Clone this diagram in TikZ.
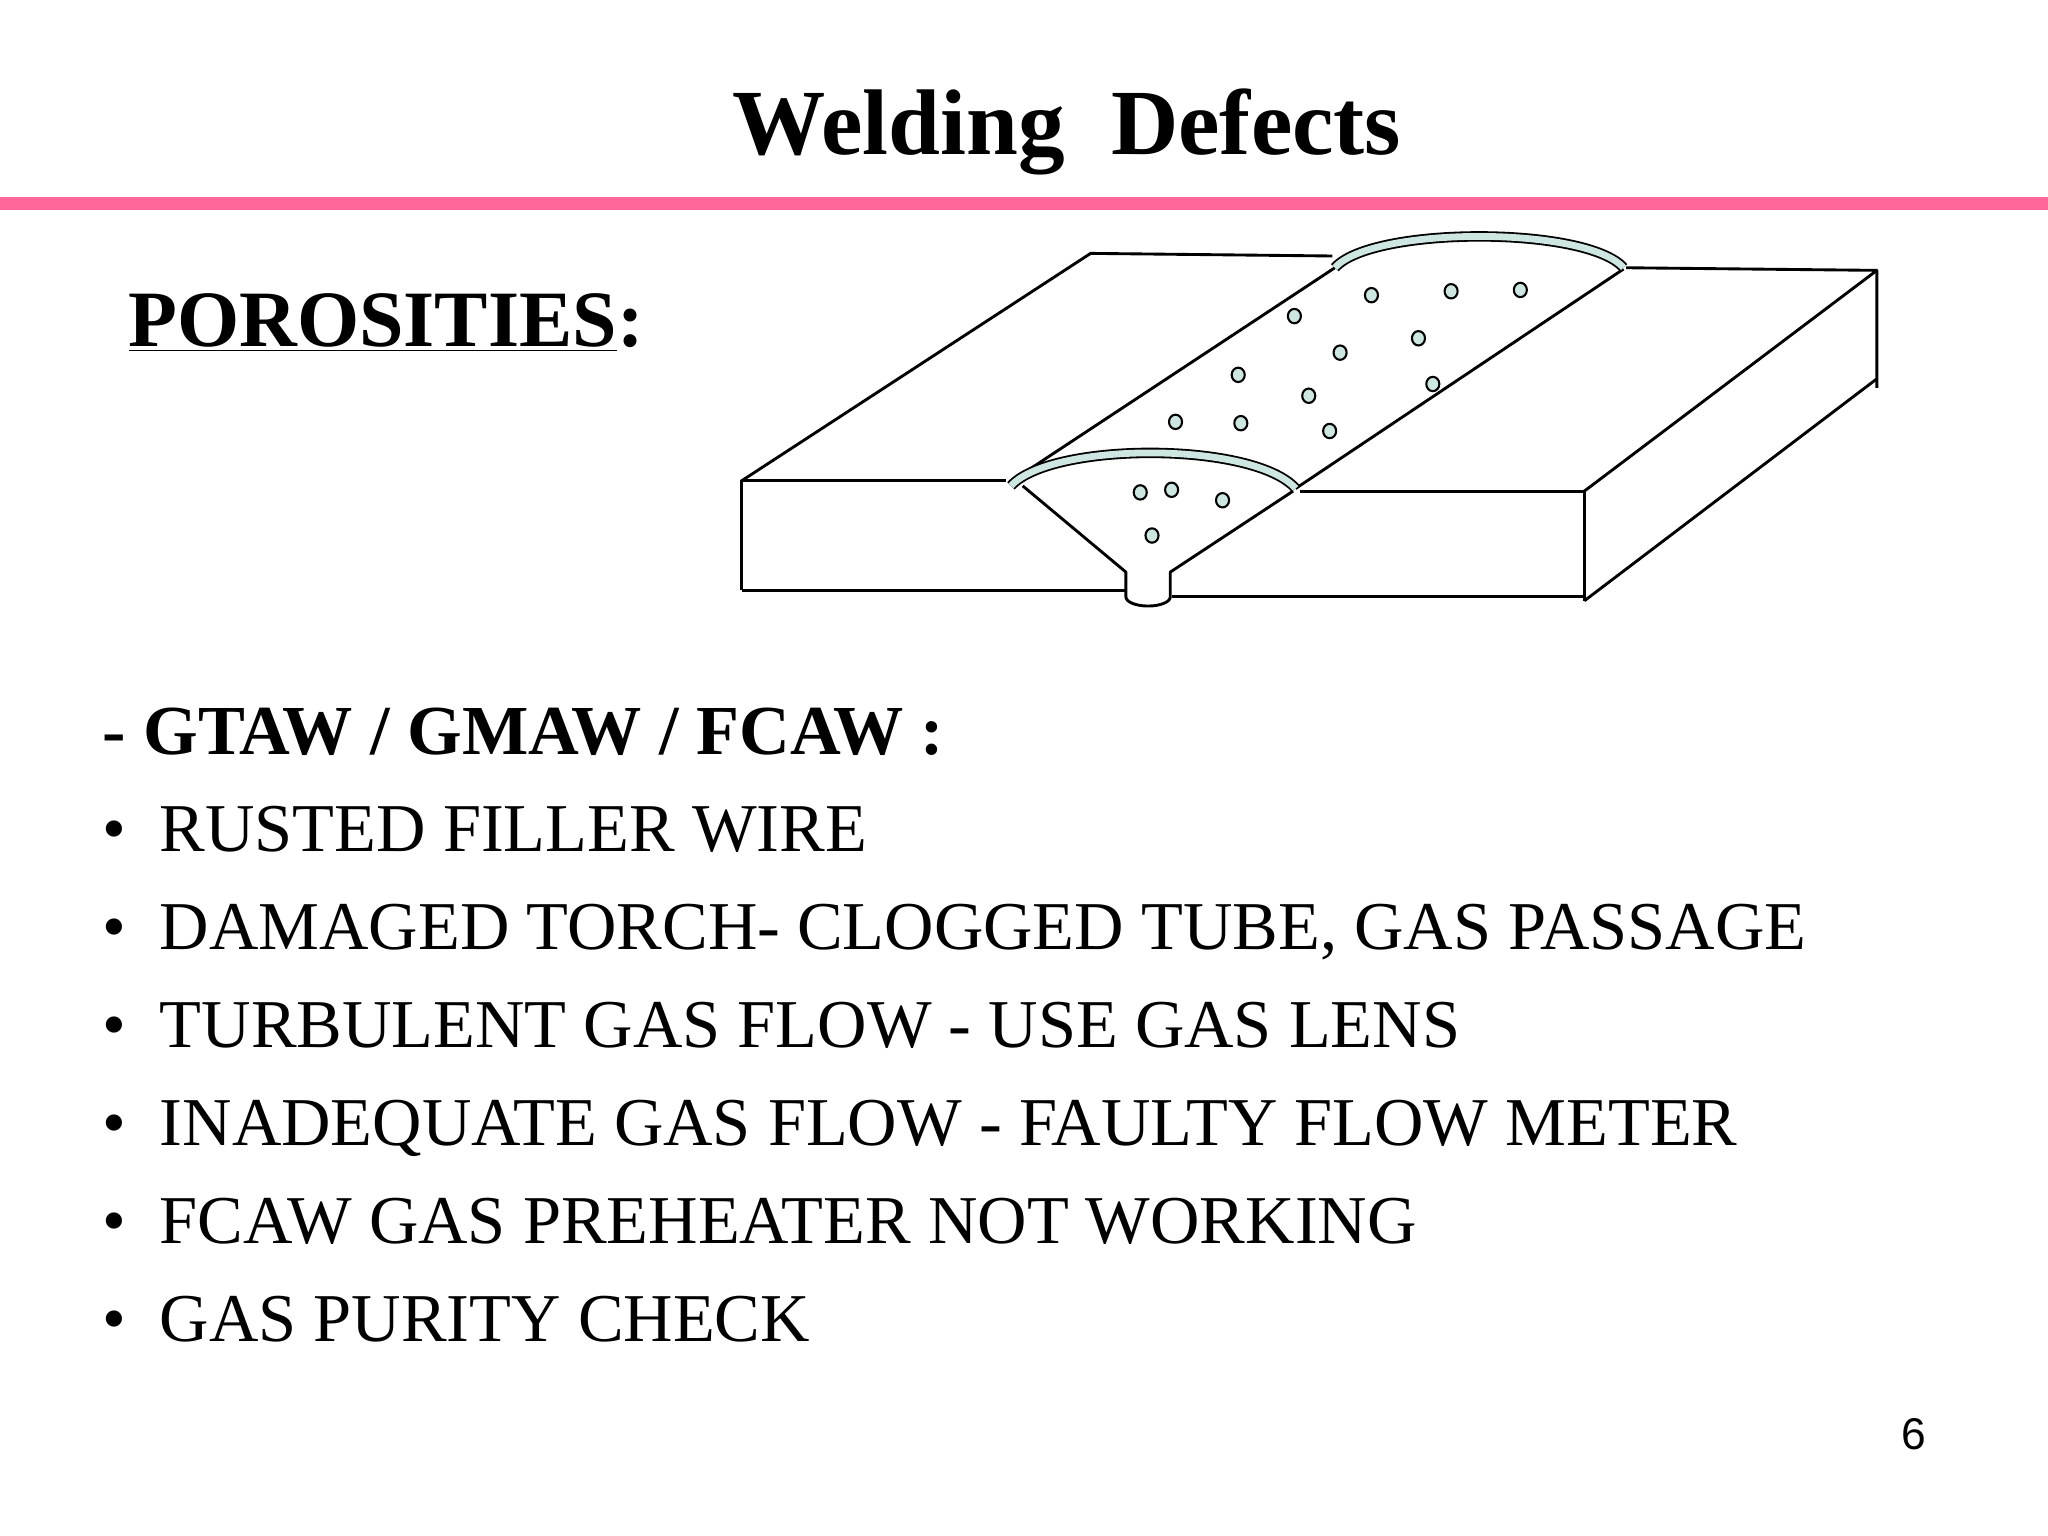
\documentclass[tikz,border=0pt]{standalone}
\usepackage{fontspec}
\setmainfont{Liberation Serif}
\newfontfamily\numfont{Liberation Sans}
\definecolor{pinkline}{HTML}{FF6699}
\definecolor{pore}{HTML}{CDE6E1}
\begin{document}
\begin{tikzpicture}[x=0.5pt,y=-0.5pt,
  ln/.style={line width=1.1pt,line join=round},
  porec/.style={draw,line width=0.8pt,fill=pore},
  bead/.style={line width=0.7pt,draw=black,double=pore,double distance=2.6pt},
  body/.style={anchor=base west,font=\fontsize{26.2}{30}\selectfont,inner sep=0pt},
  bul/.style={anchor=base west,font=\fontsize{26}{30}\selectfont,inner sep=0pt}]
\useasboundingbox (0,0) rectangle (1568,1176);
\node[anchor=base,inner sep=0pt,font=\fontsize{35.7}{40}\selectfont\bfseries] (title) at (817,118) {Welding\ \ Defects};
\fill[pinkline] (0,151) rectangle (1568,161);
\node[anchor=base west,inner sep=0pt,font=\fontsize{30.6}{36}\selectfont\bfseries] (por) at (98,265) {\underline{POROSITIES}:};
% block
\draw[ln] (568,452) -- (568,368) -- (770,368);
\draw[ln] (568,368) -- (835,194) -- (1020,196);
\draw[ln] (568,452) -- (862,452);
\draw[ln] (783,372) -- (862,438) -- (862,457);
\draw[ln] (896,457) -- (896,438) -- (990,376);
\draw[ln] (862,457) arc[start angle=180,end angle=0,x radius=17,y radius=7];
\draw[ln] (897,457) -- (1213,457);
\draw[ln] (995,376) -- (1213,376) -- (1213,460);
\draw[ln] (1213,376) -- (1437,207);
\draw[ln] (1245,205) -- (1437,207) -- (1437,297);
\draw[ln] (1213,460) -- (1437,290);
% bead edges
\draw[ln] (775,368) -- (1022,205);
\draw[ln] (992,374) -- (1243,206);
\draw[bead] (774,372) .. controls (805,338) and (960,338) .. (992,374);
\draw[bead] (1022,205) .. controls (1050,173) and (1215,173) .. (1243,205);
% pores
\foreach \p/\q [count=\i] in {991/242,1050/226,1111/223,1164/222,1026/270,1086/259,948/287,1002/303,1097/294,900/323,950/324,1018/330,873/377,897/375,936/383,882/410}
  \draw[porec] (\p,\q) ellipse[x radius=5,y radius=5.5];
% text
\node[anchor=base west,inner sep=0pt,font=\fontsize{26.9}{30}\selectfont\bfseries] (h) at (78,578) {- GTAW / GMAW / FCAW :};
\foreach \t/\yy [count=\i] in {RUSTED FILLER WIRE/652,{DAMAGED TORCH- CLOGGED TUBE, GAS PASSAGE}/727,TURBULENT GAS FLOW - USE GAS LENS/802,INADEQUATE GAS FLOW - FAULTY FLOW METER/877,FCAW GAS PREHEATER NOT WORKING/952,GAS PURITY CHECK/1027}{
  \node[bul] (b\i) at (78,\yy) {\textbullet};
  \node[body] (t\i) at (122,\yy) {\t};
}
\node[anchor=base,inner sep=0pt,font=\numfont\fontsize{17}{20}\selectfont] (pg) at (1465,1110) {6};
\end{tikzpicture}
\end{document}
